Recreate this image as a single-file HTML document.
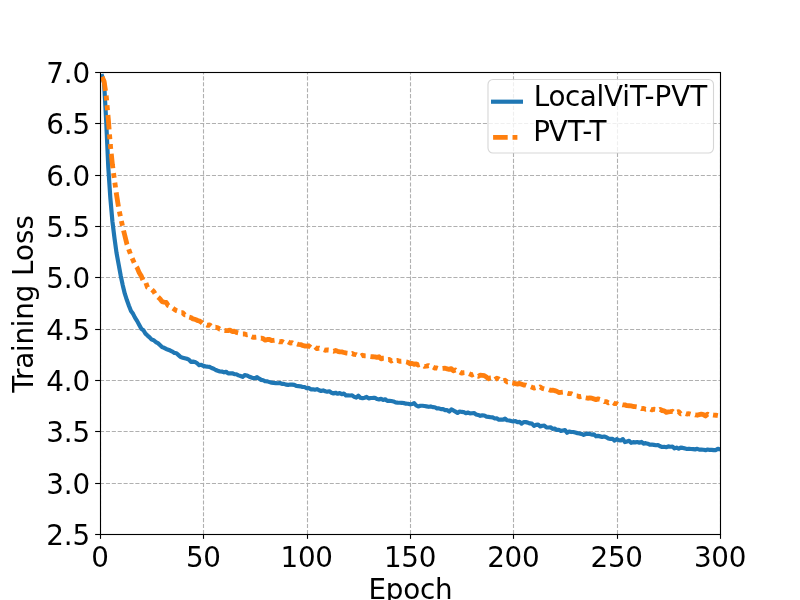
<!DOCTYPE html>
<html><head><meta charset="utf-8"><title>Training Loss</title>
<style>html,body{margin:0;padding:0;background:#fff;overflow:hidden}</style></head>
<body>
<svg width="800" height="600" viewBox="0 0 800 600" style="display:block">
<rect width="800" height="600" fill="#fff"/>
<defs><clipPath id="ax"><rect x="100" y="72" width="620" height="462"/></clipPath></defs>
<g stroke="#b0b0b0" stroke-width="1.11" stroke-dasharray="4.11 1.78" fill="none" clip-path="url(#ax)"><line x1="100.5" y1="534" x2="100.5" y2="72"/><line x1="203.5" y1="534" x2="203.5" y2="72"/><line x1="307.5" y1="534" x2="307.5" y2="72"/><line x1="410.5" y1="534" x2="410.5" y2="72"/><line x1="513.5" y1="534" x2="513.5" y2="72"/><line x1="617.5" y1="534" x2="617.5" y2="72"/><line x1="720.5" y1="534" x2="720.5" y2="72"/><line x1="100" y1="72.5" x2="720" y2="72.5"/><line x1="100" y1="123.5" x2="720" y2="123.5"/><line x1="100" y1="175.5" x2="720" y2="175.5"/><line x1="100" y1="226.5" x2="720" y2="226.5"/><line x1="100" y1="277.5" x2="720" y2="277.5"/><line x1="100" y1="329.5" x2="720" y2="329.5"/><line x1="100" y1="380.5" x2="720" y2="380.5"/><line x1="100" y1="431.5" x2="720" y2="431.5"/><line x1="100" y1="483.5" x2="720" y2="483.5"/><line x1="100" y1="534.5" x2="720" y2="534.5"/></g>
<g stroke="#000" stroke-width="1.11"><line x1="100.5" y1="534" x2="100.5" y2="538.86"/><line x1="203.5" y1="534" x2="203.5" y2="538.86"/><line x1="307.5" y1="534" x2="307.5" y2="538.86"/><line x1="410.5" y1="534" x2="410.5" y2="538.86"/><line x1="513.5" y1="534" x2="513.5" y2="538.86"/><line x1="617.5" y1="534" x2="617.5" y2="538.86"/><line x1="720.5" y1="534" x2="720.5" y2="538.86"/><line x1="100" y1="72.5" x2="95.14" y2="72.5"/><line x1="100" y1="123.5" x2="95.14" y2="123.5"/><line x1="100" y1="175.5" x2="95.14" y2="175.5"/><line x1="100" y1="226.5" x2="95.14" y2="226.5"/><line x1="100" y1="277.5" x2="95.14" y2="277.5"/><line x1="100" y1="329.5" x2="95.14" y2="329.5"/><line x1="100" y1="380.5" x2="95.14" y2="380.5"/><line x1="100" y1="431.5" x2="95.14" y2="431.5"/><line x1="100" y1="483.5" x2="95.14" y2="483.5"/><line x1="100" y1="534.5" x2="95.14" y2="534.5"/></g>
<g clip-path="url(#ax)" fill="none" stroke-linejoin="round">
<polyline points="102.07,76.00 104.13,83.06 106.20,121.50 108.27,166.94 110.33,197.90 112.40,221.25 114.47,237.89 116.53,252.93 118.60,264.24 120.67,275.46 122.73,285.19 124.80,293.70 126.87,300.05 128.93,305.70 131.00,310.95 133.07,313.83 135.13,317.91 137.20,321.14 139.27,325.04 141.33,328.81 143.40,330.24 145.47,333.65 147.53,335.57 149.60,337.40 151.67,339.60 153.73,340.20 155.80,342.08 157.87,343.14 159.93,345.08 162.00,347.11 164.07,347.83 166.13,348.94 168.20,349.70 170.27,350.54 172.33,351.58 174.40,352.91 176.47,353.20 178.53,355.12 180.60,357.09 182.67,357.65 184.73,358.20 186.80,358.77 188.87,359.63 190.93,361.87 193.00,361.66 195.07,362.02 197.13,363.29 199.20,365.21 201.27,364.80 203.33,365.87 205.40,366.37 207.47,366.66 209.53,366.87 211.60,368.02 213.67,368.79 215.73,369.95 217.80,370.78 219.87,371.51 221.93,371.56 224.00,372.33 226.07,371.76 228.13,373.38 230.20,373.35 232.27,373.27 234.33,374.16 236.40,374.23 238.47,375.37 240.53,376.02 242.60,376.83 244.67,375.10 246.73,375.48 248.80,376.46 250.87,377.27 252.93,378.11 255.00,378.19 257.07,377.20 259.13,378.64 261.20,379.90 263.27,380.25 265.33,381.27 267.40,381.38 269.47,382.10 271.53,382.67 273.60,383.01 275.67,383.09 277.73,383.24 279.80,382.98 281.87,383.81 283.93,383.87 286.00,384.68 288.07,384.93 290.13,384.54 292.20,384.62 294.27,384.89 296.33,385.95 298.40,386.16 300.47,386.33 302.53,386.99 304.60,387.01 306.67,388.23 308.73,387.95 310.80,389.34 312.87,389.24 314.93,389.75 317.00,389.12 319.07,390.27 321.13,391.01 323.20,390.38 325.27,391.19 327.33,391.76 329.40,391.30 331.47,392.71 333.53,393.42 335.60,392.73 337.67,393.77 339.73,393.09 341.80,394.18 343.87,393.55 345.93,395.51 348.00,395.40 350.07,395.46 352.13,395.32 354.20,396.87 356.27,397.61 358.33,395.63 360.40,397.78 362.47,398.22 364.53,397.66 366.60,396.94 368.67,398.38 370.73,397.96 372.80,397.92 374.87,397.75 376.93,399.02 379.00,399.38 381.07,398.82 383.13,399.89 385.20,399.28 387.27,400.83 389.33,400.76 391.40,401.01 393.47,401.44 395.53,402.34 397.60,402.57 399.67,402.74 401.73,402.80 403.80,403.06 405.87,403.69 407.93,403.75 410.00,404.32 412.07,404.04 414.13,403.09 416.20,405.49 418.27,406.50 420.33,405.77 422.40,405.76 424.47,406.06 426.53,406.39 428.60,406.79 430.67,406.44 432.73,407.15 434.80,407.22 436.87,408.32 438.93,408.34 441.00,409.17 443.07,409.12 445.13,410.16 447.20,410.05 449.27,411.59 451.33,409.44 453.40,410.45 455.47,411.65 457.53,412.90 459.60,411.50 461.67,411.94 463.73,412.05 465.80,413.25 467.87,412.55 469.93,413.40 472.00,413.21 474.07,413.05 476.13,414.41 478.20,414.94 480.27,415.83 482.33,415.40 484.40,415.51 486.47,416.63 488.53,416.85 490.60,417.27 492.67,417.41 494.73,418.50 496.80,418.37 498.87,419.65 500.93,419.52 503.00,419.60 505.07,418.58 507.13,420.27 509.20,420.51 511.27,421.09 513.33,421.58 515.40,421.09 517.47,422.20 519.53,421.75 521.60,423.64 523.67,422.04 525.73,422.16 527.80,422.61 529.87,423.44 531.93,423.66 534.00,425.85 536.07,424.84 538.13,424.58 540.20,426.40 542.27,425.73 544.33,425.69 546.40,427.31 548.47,427.51 550.53,427.26 552.60,428.84 554.67,428.55 556.73,429.92 558.80,429.73 560.87,430.83 562.93,430.44 565.00,430.12 567.07,432.79 569.13,431.47 571.20,432.04 573.27,432.02 575.33,432.60 577.40,433.14 579.47,433.40 581.53,433.95 583.60,434.91 585.67,434.04 587.73,433.65 589.80,433.96 591.87,434.64 593.93,434.41 596.00,436.29 598.07,435.88 600.13,436.37 602.20,436.93 604.27,436.47 606.33,437.17 608.40,438.51 610.47,438.95 612.53,438.79 614.60,440.62 616.67,439.22 618.73,440.12 620.80,440.41 622.87,439.09 624.93,442.14 627.00,441.41 629.07,440.78 631.13,442.86 633.20,442.19 635.27,442.35 637.33,441.98 639.40,442.67 641.47,441.95 643.53,443.60 645.60,443.16 647.67,443.72 649.73,444.71 651.80,444.52 653.87,444.86 655.93,445.22 658.00,444.97 660.07,446.26 662.13,446.98 664.20,446.81 666.27,447.18 668.33,446.41 670.40,446.72 672.47,446.65 674.53,448.39 676.60,447.63 678.67,448.75 680.73,447.58 682.80,447.92 684.87,448.37 686.93,449.02 689.00,448.71 691.07,449.00 693.13,449.08 695.20,449.38 697.27,448.81 699.33,449.68 701.40,449.59 703.47,449.74 705.53,450.15 707.60,449.52 709.67,449.95 711.73,449.89 713.80,450.16 715.87,450.08 717.93,448.73 720.00,449.35" stroke="#1f77b4" stroke-width="4.17" stroke-linecap="square"/>
<polyline points="102.07,76.80 104.13,81.52 106.20,95.75 108.27,118.73 110.33,144.83 112.40,164.68 114.47,179.91 116.53,194.62 118.60,207.75 120.67,217.66 122.73,227.09 124.80,235.47 126.87,243.95 128.93,249.94 131.00,255.52 133.07,260.19 135.13,264.93 137.20,267.89 139.27,272.82 141.33,276.08 143.40,281.26 145.47,281.67 147.53,287.32 149.60,288.40 151.67,289.42 153.73,291.40 155.80,295.01 157.87,296.89 159.93,298.85 162.00,301.56 164.07,302.06 166.13,302.41 168.20,305.61 170.27,306.42 172.33,307.89 174.40,309.36 176.47,310.57 178.53,311.23 180.60,312.79 182.67,312.75 184.73,314.92 186.80,314.91 188.87,317.04 190.93,317.58 193.00,318.98 195.07,319.35 197.13,320.32 199.20,320.96 201.27,322.13 203.33,323.94 205.40,324.23 207.47,325.28 209.53,324.84 211.60,326.77 213.67,327.30 215.73,327.24 217.80,327.91 219.87,329.10 221.93,329.28 224.00,330.42 226.07,330.59 228.13,330.51 230.20,330.20 232.27,331.62 234.33,331.26 236.40,332.44 238.47,332.94 240.53,333.45 242.60,334.01 244.67,334.01 246.73,334.74 248.80,334.44 250.87,336.50 252.93,337.28 255.00,337.27 257.07,337.07 259.13,338.22 261.20,338.06 263.27,338.69 265.33,340.15 267.40,339.48 269.47,339.46 271.53,340.45 273.60,340.40 275.67,340.13 277.73,341.11 279.80,341.90 281.87,341.37 283.93,342.63 286.00,342.06 288.07,341.73 290.13,342.98 292.20,342.73 294.27,344.11 296.33,343.66 298.40,344.39 300.47,344.60 302.53,345.38 304.60,346.00 306.67,346.15 308.73,345.79 310.80,347.44 312.87,347.63 314.93,346.63 317.00,348.63 319.07,348.14 321.13,348.82 323.20,349.44 325.27,350.24 327.33,349.85 329.40,350.05 331.47,350.67 333.53,351.25 335.60,350.55 337.67,351.29 339.73,351.87 341.80,351.93 343.87,352.48 345.93,352.98 348.00,353.22 350.07,354.19 352.13,353.54 354.20,354.41 356.27,354.64 358.33,355.69 360.40,356.37 362.47,355.24 364.53,355.79 366.60,355.83 368.67,356.38 370.73,356.63 372.80,356.75 374.87,356.83 376.93,357.36 379.00,356.80 381.07,358.91 383.13,358.13 385.20,358.04 387.27,359.69 389.33,359.43 391.40,360.92 393.47,359.63 395.53,360.76 397.60,360.50 399.67,361.30 401.73,361.20 403.80,361.80 405.87,361.94 407.93,362.38 410.00,363.78 412.07,363.35 414.13,364.31 416.20,363.92 418.27,365.03 420.33,364.41 422.40,364.99 424.47,366.34 426.53,366.19 428.60,365.59 430.67,366.95 432.73,366.94 434.80,367.97 436.87,368.01 438.93,368.68 441.00,368.66 443.07,368.45 445.13,368.24 447.20,368.92 449.27,369.37 451.33,368.65 453.40,370.82 455.47,369.97 457.53,371.63 459.60,371.93 461.67,373.16 463.73,372.63 465.80,372.50 467.87,373.11 469.93,374.07 472.00,374.94 474.07,374.09 476.13,375.66 478.20,376.28 480.27,375.19 482.33,375.31 484.40,375.69 486.47,377.02 488.53,378.68 490.60,377.86 492.67,377.71 494.73,379.64 496.80,378.20 498.87,379.07 500.93,380.60 503.00,380.92 505.07,380.28 507.13,381.96 509.20,381.55 511.27,382.60 513.33,382.99 515.40,383.72 517.47,384.08 519.53,383.44 521.60,384.22 523.67,384.96 525.73,385.12 527.80,385.89 529.87,386.46 531.93,387.25 534.00,388.09 536.07,387.55 538.13,388.20 540.20,386.91 542.27,388.38 544.33,388.95 546.40,389.32 548.47,389.52 550.53,390.32 552.60,390.13 554.67,390.59 556.73,391.26 558.80,392.49 560.87,392.31 562.93,392.07 565.00,392.18 567.07,393.13 569.13,393.69 571.20,393.66 573.27,394.63 575.33,395.70 577.40,395.88 579.47,396.76 581.53,396.33 583.60,397.74 585.67,397.87 587.73,398.23 589.80,397.96 591.87,398.21 593.93,398.92 596.00,399.57 598.07,398.92 600.13,399.48 602.20,400.38 604.27,401.55 606.33,401.70 608.40,402.88 610.47,401.96 612.53,402.31 614.60,403.55 616.67,403.65 618.73,404.83 620.80,404.45 622.87,404.94 624.93,404.88 627.00,405.69 629.07,405.73 631.13,405.93 633.20,406.50 635.27,406.60 637.33,406.91 639.40,407.65 641.47,408.65 643.53,408.51 645.60,409.26 647.67,408.93 649.73,408.74 651.80,409.82 653.87,409.21 655.93,409.46 658.00,410.38 660.07,409.37 662.13,410.50 664.20,410.86 666.27,412.43 668.33,411.92 670.40,411.68 672.47,411.29 674.53,413.10 676.60,412.20 678.67,411.64 680.73,413.86 682.80,413.35 684.87,413.34 686.93,414.06 689.00,413.71 691.07,414.35 693.13,414.15 695.20,414.96 697.27,415.20 699.33,414.66 701.40,414.14 703.47,414.60 705.53,415.95 707.60,414.16 709.67,415.19 711.73,414.79 713.80,415.12 715.87,415.20 717.93,415.55 720.00,415.51" stroke="#ff7f0e" stroke-width="4.86" stroke-dasharray="14.58 4.86 4.86 4.86 4.86 4.86" stroke-linecap="butt"/>
</g>
<rect x="100.5" y="72.5" width="620" height="462" fill="none" stroke="#000" stroke-width="1.11"/>
<g font-family="'DejaVu Sans', 'Liberation Sans', sans-serif" font-size="27.78" fill="#000">
<text x="100.00" y="566.5" text-anchor="middle" letter-spacing="-0.25">0</text>
<text x="203.33" y="566.5" text-anchor="middle" letter-spacing="-0.25">50</text>
<text x="306.67" y="566.5" text-anchor="middle" letter-spacing="-0.25">100</text>
<text x="410.00" y="566.5" text-anchor="middle" letter-spacing="-0.25">150</text>
<text x="513.33" y="566.5" text-anchor="middle" letter-spacing="-0.25">200</text>
<text x="616.67" y="566.5" text-anchor="middle" letter-spacing="-0.25">250</text>
<text x="720.00" y="566.5" text-anchor="middle" letter-spacing="-0.25">300</text>
<text x="90.3" y="82.70" text-anchor="end">7.0</text>
<text x="90.3" y="133.70" text-anchor="end">6.5</text>
<text x="90.3" y="185.70" text-anchor="end">6.0</text>
<text x="90.3" y="236.70" text-anchor="end">5.5</text>
<text x="90.3" y="287.70" text-anchor="end">5.0</text>
<text x="90.3" y="339.70" text-anchor="end">4.5</text>
<text x="90.3" y="390.70" text-anchor="end">4.0</text>
<text x="90.3" y="441.70" text-anchor="end">3.5</text>
<text x="90.3" y="493.70" text-anchor="end">3.0</text>
<text x="90.3" y="544.70" text-anchor="end">2.5</text>
<text x="410.4" y="599.3" text-anchor="middle" letter-spacing="-0.24">Epoch</text>
<text transform="translate(33,392.7) rotate(-90)"><tspan letter-spacing="-0.21">Training</tspan> Loss</text>
</g>
<rect x="488" y="79.5" width="225.5" height="73.5" rx="5" ry="5" fill="#fff" fill-opacity="0.8" stroke="#ccc" stroke-opacity="0.8" stroke-width="1.11"/>
<line x1="493.1" y1="101.7" x2="520.9" y2="101.7" stroke="#1f77b4" stroke-width="4.17" stroke-linecap="square"/>
<line x1="493.1" y1="137.4" x2="520.9" y2="137.4" stroke="#ff7f0e" stroke-width="4.86" stroke-dasharray="14.58 4.86 4.86 4.86 4.86 4.86"/>
<g font-family="'DejaVu Sans', 'Liberation Sans', sans-serif" font-size="27.78" fill="#000"><text x="533.8" y="105.7"><tspan letter-spacing="-0.4">Local</tspan><tspan dx="0.2">ViT-PVT</tspan></text><text x="533.2" y="141.3">P<tspan dx="-1.2">VT-T</tspan></text></g>
</svg>
</body></html>
